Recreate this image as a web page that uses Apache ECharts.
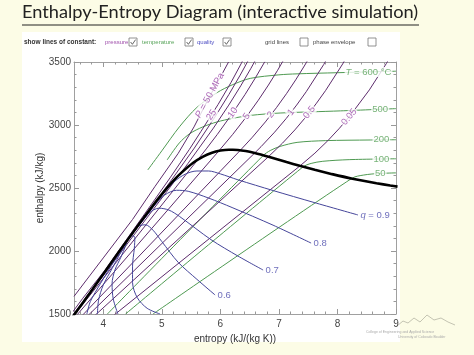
<!DOCTYPE html>
<html>
<head>
<meta charset="utf-8">
<script src="https://cdn.jsdelivr.net/npm/echarts@6/dist/echarts.min.js"></script>
<style>
html, body { margin: 0; padding: 0; background: #fcfce6; }
#chart { width: 474px; height: 355px; }
</style>
</head>
<body>
<div id="chart"></div>
<script>
// saturation dome, [entropy, enthalpy]
var satLiquid = [[3.448,1461],[3.551,1525],[3.659,1594],[3.778,1671],[3.915,1761],[4.111,1891],[4.407,2084]];
var satVapor = [[4.407,2084],[4.800,2332],[5.053,2481],[5.211,2564],[5.336,2622],[5.536,2700],[5.705,2749],[5.857,2780],
  [6.002,2797],[6.144,2804],[6.215,2804],[6.432,2793],[6.586,2778],[6.838,2746],[7.130,2706],[7.355,2676],
  [7.612,2644],[7.909,2610],[8.257,2574],[8.667,2538],[8.901,2520],[9.026,2511]];

// isobars
var p50 = [[3.5,1640],[4.0,1945],[4.5,2250],[4.88,2510],[5.28,2775],[5.55,2985],[5.82,3230],[6.0,3380],[6.14,3500]];
var p25 = [[3.41,1474],[3.65,1625],[4.03,1848],[5.14,2580],[5.47,2806],[5.67,2950],[5.96,3162],[6.18,3336],[6.36,3491],[6.52,3640]];
var p20 = [[3.3,1378],[4.0156,1827.2],[4.9314,2412.3],[5.5553,2816.9],[5.9046,3061.7],[6.1446,3241.2],[6.3389,3396.2],[6.5075,3539.0]];
var p15 = [[3.226,1338],[3.6848,1610.3],[5.3108,2610.8],[5.4435,2692.9],[5.8819,2975.7],[6.1434,3157.9],[6.3480,3310.8],[6.5230,3450.4],[6.6796,3583.1]];
var p10 = [[3.3603,1407.9],[5.6159,2725.5],[5.7596,2810.3],[5.9458,2924.0],[6.2141,3097.5],[6.4219,3242.4],[6.5995,3375.1],[6.7585,3502.0]];
var p5 = [[2.9207,1154.5],[5.9737,2794.2],[6.2111,2925.7],[6.4516,3069.3],[6.6483,3196.7],[6.8210,3317.2],[6.9781,3434.7],[7.1237,3550.9]];
var p2 = [[2.4467,908.5],[6.3390,2798.3],[6.5475,2903.3],[6.7684,3024.2],[6.9583,3137.7],[7.1292,3248.4],[7.2866,3358.2],[7.4337,3468.3],[7.5735,3578]];
var p1 = [[2.1381,762.5],[6.5850,2777.1],[6.6955,2828.3],[6.9265,2943.1],[7.1246,3051.6],[7.3029,3158.2],[7.4670,3264.5],[7.7642,3479.1],[8.0311,3698.6]];
var p05 = [[1.8604,640.1],[6.8207,2748.1],[7.0610,2855.8],[7.2725,2961.0],[7.4614,3064.6],[7.6346,3168.1],[7.7956,3272.4],[8.0893,3484.5],[8.3544,3702.5]];
var p005 = [[1.3028,417.5],[7.3589,2675.0],[7.6148,2776.6],[7.8356,2875.5],[8.0346,2974.5],[8.2172,3074.5],[8.5452,3278.6],[8.8362,3488.7],[9.0999,3705]];
var isobars = [p50, p25, p20, p15, p10, p5, p2, p1, p05, p005];
var isobarText = ['{i|P} = 50 MPa', '25', '10', '5', '2', '1', '0.5', '0.05'];
var isobarAt = [[5.82,3235],[5.85,3080],[6.2141,3097.5],[6.4516,3069.3],[6.862,3080],[7.206,3100],[7.52,3100],[8.2,3063]];

// isotherms
var t600 = [[4.76,2643],[5.0,2795],[5.3,2985],[5.6,3140],[5.94,3256],[6.2,3318],[6.51,3370],[7.0,3398],[7.31,3406],[8.0,3415],[9.0,3427]];
var t500 = [[5.09,2722],[5.3,2858],[5.48,2932],[5.7,2985],[5.94,3024],[6.2,3052],[6.51,3076],[7.02,3095],[8.05,3112],[9.0,3130]];
var t200 = [[4.07,1500],[6.73,2757],[6.85,2797],[7.02,2830],[7.31,2862],[7.8,2876],[8.56,2881],[9.0,2883]];
var t100 = [[4.38,1500],[7.41,2667],[7.55,2695],[7.75,2712],[8.2,2725],[9.0,2732]];
var t50 = [[4.85,1500],[8.25,2578],[8.45,2603],[8.7,2615],[9.0,2620]];
var isotherms = [t600, t500, t200, t100, t50];
var isothermText = ['{i|T} = 600 °C', '500', '200', '100', '50'];
var isothermAt = [[8.53,3421],[8.73,3125],[8.75,2882],[8.75,2729],[8.73,2616]];

// lines of constant quality
var q9 = [[4.41,2084],[4.75,2290],[5.0,2440],[5.2,2545],[5.4,2610],[5.6,2635],[5.8,2635],[6.0,2612],[6.3,2565],[6.9,2480],[7.6,2385],[8.35,2286]];
var q8 = [[4.41,2084],[4.7,2255],[4.9,2375],[5.05,2445],[5.25,2482],[5.45,2474],[5.8,2420],[6.2,2345],[6.9,2205],[7.55,2063]];
var q7 = [[4.41,2084],[4.6,2200],[4.78,2300],[4.95,2340],[5.12,2325],[5.3,2275],[5.84,2090],[6.3,1960],[6.73,1849]];
var q6 = [[4.41,2084],[4.52,2160],[4.62,2200],[4.72,2208],[4.85,2165],[5.0,2075],[5.28,1910],[5.6,1775],[5.91,1651]];
var q5 = [[4.41,2084],[4.48,2120],[4.54,2110],[4.53,2020],[4.5,1880],[4.5,1750],[4.58,1630],[4.75,1545],[4.97,1500]];
var q4 = [[4.41,2084],[4.38,2040],[4.3,1950],[4.2,1850],[4.15,1740],[4.17,1620],[4.25,1500]];
var q3 = [[4.41,2084],[4.3,1990],[4.15,1860],[4.0,1730],[3.92,1610],[3.9,1500]];
var q2 = [[4.41,2084],[4.2,1930],[3.95,1740],[3.78,1600],[3.72,1500]];
var qualities = [q9, q8, q7, q6, q5, q4, q3, q2];
var qualityText = ['{i|q} = 0.9', '0.8', '0.7', '0.6'];

var xTicks = [4, 5, 6, 7, 8, 9];
var xMinor = [];
for (var v = 36; v <= 90; v += 2) { if (v % 10 !== 0) xMinor.push(v / 10); }

var chart = echarts.init(document.getElementById('chart'));

var font = 'Liberation Sans';
var purple = '#5d2c6c', green = '#4f9a52', blue = '#45459a';

function curve(data, color, width, smooth, z) {
  return {
    type: 'line', data: data, symbol: 'none', smooth: smooth, silent: true,
    lineStyle: { color: color, width: width }, z: z
  };
}

function labels(texts, at, color, position, rots) {
  return {
    type: 'scatter', symbolSize: 1, silent: true, z: 10,
    itemStyle: { color: 'transparent' },
    data: texts.map(function (t, i) {
      return { value: at[i], label: { formatter: t, rotate: rots ? rots[i] : 0 } };
    }),
    label: {
      show: true, position: position, distance: 1, color: color, fontSize: 9.5, fontFamily: font,
      backgroundColor: '#fff', padding: [0, 1],
      rich: { i: { fontStyle: 'italic', color: color, fontSize: 9.5, fontFamily: font } }
    }
  };
}

var series = [];
isotherms.forEach(function (d) { series.push(curve(d, green, 1, 0.3, 2)); });
isobars.forEach(function (d) { series.push(curve(d, purple, 1, false, 3)); });
qualities.forEach(function (d) { series.push(curve(d, blue, 1, 0.3, 4)); });
series.push(curve(satLiquid.concat(satVapor.slice(1)), '#000', 2.6, 0.2, 5));
series.push(labels(isobarText, isobarAt, '#9a45a8', 'inside', [61, 56, 55, 54, 52, 52, 51, 50]));
series.push(labels(isothermText, isothermAt, '#56a058', 'inside'));
series.push(labels(qualityText, [q9[q9.length - 1], q8[q8.length - 1], q7[q7.length - 1], q6[q6.length - 1]], '#4b4bab', 'right'));

var frame = { show: true, lineStyle: { color: '#a0a0a0', width: 1 } };
var tickStyle = { color: '#999' };

function xAxisDef(pos, values, len, withLabels, withLine) {
  var a = {
    type: 'value', min: 3.5, max: 9, position: pos, splitLine: { show: false },
    axisLine: withLine ? frame : { show: false },
    axisTick: { show: true, inside: true, length: len, customValues: values, lineStyle: tickStyle },
    axisLabel: { show: withLabels, customValues: values, color: '#444', fontSize: 10, fontFamily: font, margin: 5 }
  };
  if (withLabels) {
    a.name = 'entropy (kJ/(kg K))';
    a.nameLocation = 'middle';
    a.nameGap = 18;
    a.nameTextStyle = { color: '#333', fontSize: 10, fontFamily: font };
  }
  return a;
}

function yAxisDef(pos, withLabels) {
  var a = {
    type: 'value', min: 1500, max: 3500, interval: 500, position: pos, splitLine: { show: false },
    axisLine: frame,
    axisTick: { show: true, inside: true, length: 5, lineStyle: tickStyle },
    minorTick: { show: true, splitNumber: 5, length: 2.5, lineStyle: tickStyle },
    axisLabel: { show: withLabels, color: '#444', fontSize: 10, fontFamily: font, margin: 3,
      formatter: function (val) { return String(val); } }
  };
  if (withLabels) {
    a.name = 'enthalpy (kJ/kg)';
    a.nameLocation = 'middle';
    a.nameGap = 29;
    a.nameMoveOverlap = false;
    a.nameTextStyle = { color: '#333', fontSize: 10, fontFamily: font };
  }
  return a;
}

function box(x, checked) {
  var els = [{
    type: 'rect', shape: { x: x, y: 38, width: 8, height: 8 },
    style: { fill: '#fff', stroke: '#777', lineWidth: 0.8 }
  }];
  if (checked) {
    els.push({
      type: 'polyline', shape: { points: [[x + 1.6, 42], [x + 3.4, 44.3], [x + 6.6, 39.6]] },
      style: { stroke: '#555', lineWidth: 0.9, fill: null }
    });
  }
  return els;
}

function tiny(x, text, color, bold) {
  return {
    type: 'text', x: x, y: 42, style: {
      text: text, fill: color, fontSize: bold ? 6.5 : 6, fontFamily: font, fontWeight: bold ? 'bold' : 'normal',
      verticalAlign: 'middle'
    }
  };
}

var graphics = [
  { type: 'rect', z: -10, shape: { x: 22, y: 32, width: 378, height: 310 }, style: { fill: '#fff' } },
  { type: 'text', x: 22, y: 3, style: { text: 'Enthalpy-Entropy Diagram (interactive simulation)', fill: '#222', fontSize: 18.2, fontFamily: 'Lato' } },
  { type: 'line', shape: { x1: 22, y1: 25, x2: 419, y2: 25 }, style: { stroke: '#222', lineWidth: 1 } },
  tiny(24, 'show lines of constant:', '#333', true),
  tiny(105, 'pressure', '#a050ac'),
  tiny(142, 'temperature', '#5aa55c'),
  tiny(197, 'quality', '#4f4fc4'),
  tiny(265, 'grid lines', '#444'),
  tiny(313, 'phase envelope', '#444'),
  { type: 'polyline', shape: { points: [[397,326],[403,321],[408,323],[414,318],[420,322],[427,315],[434,320],[441,318],[448,322],[455,325]] },
    style: { stroke: '#b5b5a5', lineWidth: 0.8, fill: null } },
  { type: 'text', x: 366, y: 330, style: { text: 'College of Engineering and Applied Science', fill: '#aaa', fontSize: 3.5, fontFamily: font } },
  { type: 'text', x: 398, y: 335, style: { text: 'University of Colorado Boulder', fill: '#aaa', fontSize: 3.5, fontFamily: font } }
].concat(box(129, true), box(185, true), box(223, true), box(300, false), box(368, false));

chart.setOption({
  animation: false,
  backgroundColor: '#fcfce6',
  grid: { left: 74, right: 78, top: 62, bottom: 41 },
  xAxis: [
    xAxisDef('bottom', xTicks, 5, true, true),
    xAxisDef('top', xTicks, 5, false, true),
    xAxisDef('bottom', xMinor, 2.5, false, false),
    xAxisDef('top', xMinor, 2.5, false, false)
  ],
  yAxis: [yAxisDef('left', true), yAxisDef('right', false)],
  graphic: graphics,
  series: series
});
</script>
</body>
</html>
